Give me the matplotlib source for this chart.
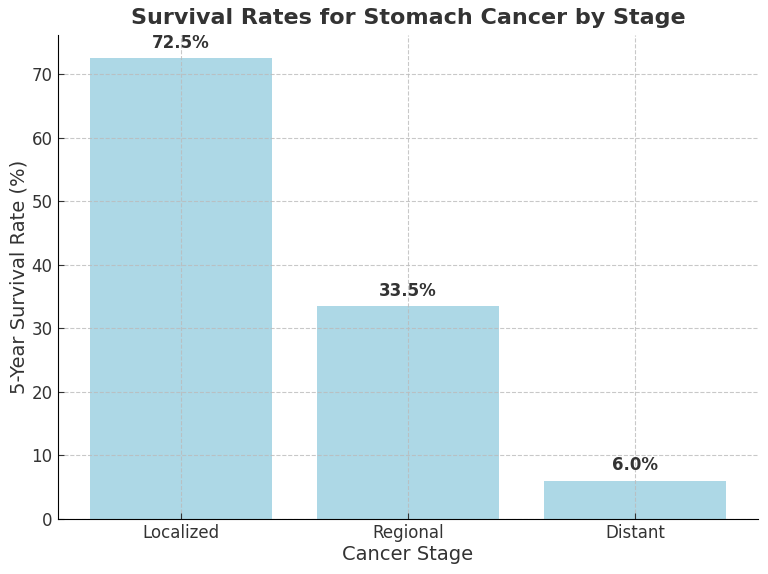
import matplotlib.pyplot as plt

stages = ['Localized', 'Regional', 'Distant']
survival_rates = [72.5, 33.5, 6.0]

fig, ax = plt.subplots(figsize=(7.68, 5.74), dpi=100)

bars = ax.bar(stages, survival_rates, color='lightblue')

for bar, rate in zip(bars, survival_rates):
    ax.text(bar.get_x() + bar.get_width() / 2, bar.get_height() + 1,
            f'{rate}%', ha='center', va='bottom', fontsize=12,
            fontweight='bold', color='#333333')

ax.set_title('Survival Rates for Stomach Cancer by Stage', fontsize=16,
             fontweight='bold', color='#333333', pad=8)
ax.set_xlabel('Cancer Stage', fontsize=14, color='#333333', labelpad=2)
ax.set_ylabel('5-Year Survival Rate (%)', fontsize=14, color='#333333', labelpad=2)
ax.tick_params(labelsize=12, colors='#333333', direction='in', length=4, pad=4)
ax.set_ylim(0, max(survival_rates) * 1.05)

ax.grid(True, linestyle='--', color='#bbbbbb', alpha=0.8)
ax.spines['top'].set_visible(False)
ax.spines['right'].set_visible(False)

plt.subplots_adjust(left=0.0755, right=0.987, top=0.939, bottom=0.096)
plt.savefig('out.png')
